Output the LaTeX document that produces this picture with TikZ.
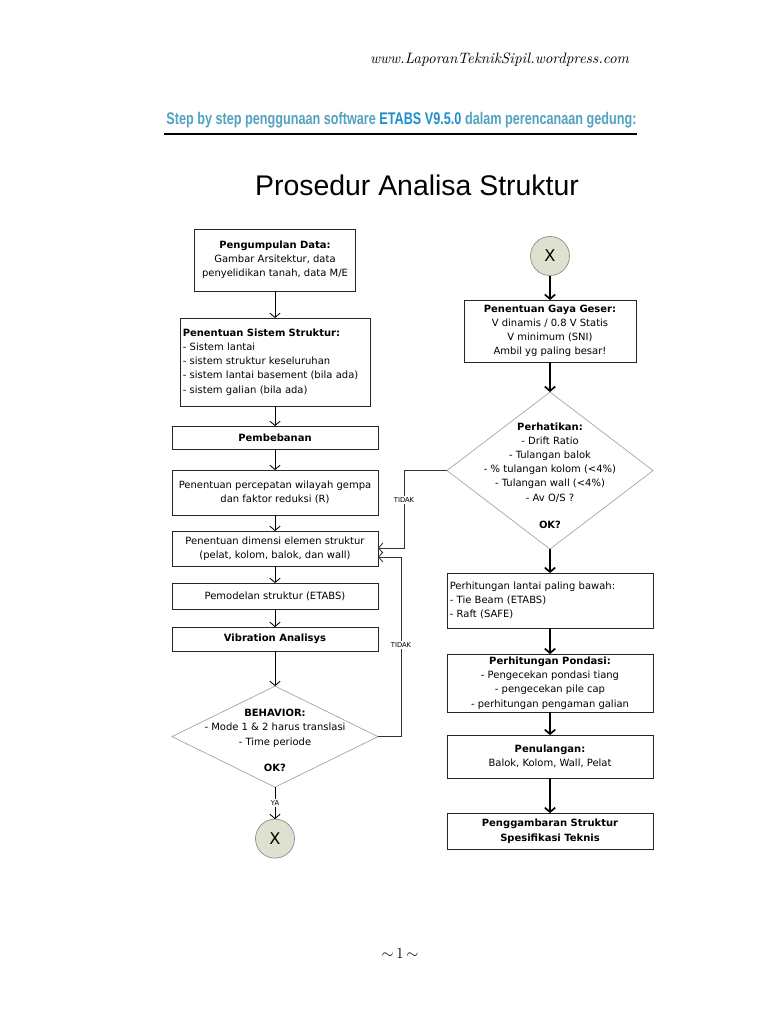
\documentclass[tikz,border=0pt]{standalone}
\usepackage{fontspec}
\usepackage{xcolor}
\usepackage{tikz}
\usetikzlibrary{arrows.meta, positioning, shapes.geometric}

\newfontfamily\boxfont{DejaVu Sans}
\newfontfamily\titlefont{Liberation Sans}
\newfontfamily\headfont[FakeStretch=0.75]{Liberation Sans}

\definecolor{jointfill}{RGB}{222,225,207}
\definecolor{headblue}{RGB}{82,162,192}
\definecolor{etabsblue}{RGB}{33,143,203}

\begin{document}
\begin{tikzpicture}[x=0.025cm, y=-0.025cm, >={Straight Barb[length=1.1mm, width=2.6mm]},
    every node/.style={font=\boxfont\fontsize{7.1}{10.1}\selectfont},
    block/.style={rectangle, draw=black!85, line width=0.6pt, fill=white, align=center, inner xsep=2pt, inner ysep=0.5pt, outer sep=0pt, minimum width=5.15cm},
    decision/.style={diamond, draw=black!35, line width=0.5pt, fill=white, inner sep=0pt, outer sep=0pt, minimum width=5.15cm},
    joint/.style={circle, draw=black!45, line width=0.5pt, fill=jointfill, inner sep=0pt, outer sep=0pt, minimum size=0.975cm, font=\boxfont\fontsize{11.5}{12}\selectfont},
    flowL/.style={->, line width=0.6pt},
    flowR/.style={->, line width=1.2pt},
    loopback/.style={->, line width=0.6pt, draw=black!80},
    tag/.style={font=\boxfont\fontsize{4.8}{5}\selectfont, fill=white, inner sep=1pt},
]
\useasboundingbox (0,0) rectangle (768,1024);

% kepala halaman
\node[anchor=east, font=\rmfamily\itshape\fontsize{10.7}{12}\selectfont] (web) at (634,60) {www.LaporanTeknikSipil.wordpress.com};
\node[font=\headfont\bfseries\fontsize{12}{14}\selectfont, text=headblue] (judul) at (401.5,120) {Step by step penggunaan software \textcolor{etabsblue}{ETABS V9.5.0} dalam perencanaan gedung:};
\draw[line width=1.5pt] (164,134) -- (637,134);
\node[font=\titlefont\fontsize{20.2}{24}\selectfont] (title) at (417,185) {Prosedur Analisa Struktur};

% kolom kiri
\node[block, minimum width=4.025cm, minimum height=1.55cm] (data) at (275,260) {\textbf{Pengumpulan Data:}\\Gambar Arsitektur, data\\penyelidikan tanah, data M/E};
\node[block, minimum width=4.75cm, minimum height=2.2cm, text width=4.61cm, align=left, below=0.675cm of data] (sistem) {\textbf{Penentuan Sistem Struktur:}\\- Sistem lantai\\- sistem struktur keseluruhan\\- sistem lantai basement (bila ada)\\- sistem galian (bila ada)};
\node[block, minimum height=0.575cm, below=0.5cm of sistem] (beban) {\textbf{Pembebanan}};
\node[block, minimum height=1.125cm, below=0.525cm of beban] (gempa) {Penentuan percepatan wilayah gempa\\dan faktor reduksi (R)};
\node[block, minimum height=0.875cm, below=0.4cm of gempa] (dimensi) {Penentuan dimensi elemen struktur\\(pelat, kolom, balok, dan wall)};
\node[block, minimum height=0.65cm, below=0.425cm of dimensi] (model) {Pemodelan struktur (ETABS)};
\node[block, minimum height=0.6cm, below=0.45cm of model] (vibrasi) {\textbf{Vibration Analisys}};
\node[decision, minimum height=2.525cm, below=0.875cm of vibrasi,
    label={[align=center, yshift=-0.1cm]center:{\textbf{BEHAVIOR:}\\- Mode 1 \& 2 harus translasi\\- Time periode\\[9pt]\textbf{OK?}}}] (behavior) {};
\node[joint, below=0.8cm of behavior] (xkiri) {X};

% kolom kanan
\node[joint] (xkanan) at (550,256) {X};
\node[block, minimum width=4.3cm, minimum height=1.55cm, below=0.6125cm of xkanan] (geser) {\textbf{Penentuan Gaya Geser:}\\V dinamis / 0.8 V Statis\\V minimum (SNI)\\Ambil yg paling besar!};
\node[decision, minimum height=3.925cm, below=0.75cm of geser,
    label={[align=center, yshift=-0.12cm]center:{\textbf{Perhatikan:}\\- Drift Ratio\\- Tulangan balok\\- \% tulangan kolom (<4\%)\\- Tulangan wall (<4\%)\\- Av O/S ?\\[9pt]\textbf{OK?}}}] (cek) {};
\node[block, minimum height=1.375cm, text width=5.01cm, align=left, below=0.6cm of cek] (lantai) {Perhitungan lantai paling bawah:\\- Tie Beam (ETABS)\\- Raft (SAFE)};
\node[block, minimum height=1.45cm, below=0.65cm of lantai] (pondasi) {\textbf{Perhitungan Pondasi:}\\- Pengecekan pondasi tiang\\- pengecekan pile cap\\- perhitungan pengaman galian};
\node[block, minimum height=1.075cm, below=0.575cm of pondasi] (tulangan) {\textbf{Penulangan:}\\Balok, Kolom, Wall, Pelat};
\node[block, minimum height=0.9cm, below=0.875cm of tulangan] (gambar) {\textbf{Penggambaran Struktur}\\\textbf{Spesifikasi Teknis}};

% alur kiri
\draw[flowL] (data) -- (sistem);
\draw[flowL] (sistem) -- (beban);
\draw[flowL] (beban) -- (gempa);
\draw[flowL] (gempa) -- (dimensi);
\draw[flowL] (dimensi) -- (model);
\draw[flowL] (model) -- (vibrasi);
\draw[flowL] (vibrasi) -- (behavior);
\draw[flowL] (behavior) -- node[tag] {YA} (xkiri);

% alur kanan
\draw[flowR] (xkanan) -- (geser);
\draw[flowR] (geser) -- (cek);
\draw[flowR] (cek) -- (lantai);
\draw[flowR] (lantai) -- (pondasi);
\draw[flowR] (pondasi) -- (tulangan);
\draw[flowR] (tulangan) -- (gambar);

% kembali (TIDAK)
\coordinate (balik1) at (401,557);
\coordinate (balik2) at (404,548);
\draw[loopback] (behavior.east) -| node[tag, pos=0.756] {TIDAK} (balik1) -- (dimensi.east |- balik1);
\draw[loopback] (cek.west) -| node[tag, pos=0.69] {TIDAK} (balik2) -- (dimensi.east |- balik2);

\node[font=\rmfamily\fontsize{11}{12}\selectfont] (hal) at (400,953) {$\sim$\,1\,$\sim$};
\end{tikzpicture}
\end{document}
